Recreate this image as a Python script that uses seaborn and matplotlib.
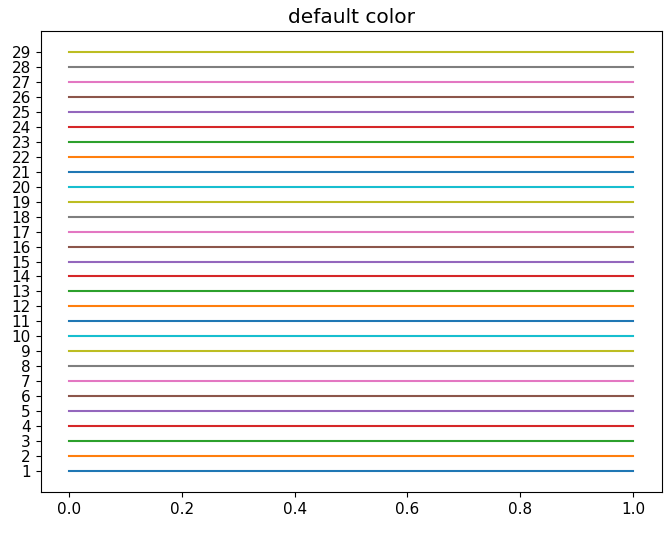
import matplotlib
matplotlib.use("Agg")
import matplotlib.pyplot as plt
import seaborn as sns
import pandas as pd

# one horizontal line per level, drawn from x=0 to x=1
levels = list(range(1, 30))
x_ends = [0, 1]

rows = []
for lv in levels:
    for x in x_ends:
        rows.append({"x": x, "y": lv, "level": lv})
df = pd.DataFrame(rows)

plt.rcParams["font.size"] = 11

tab10 = plt.rcParams["axes.prop_cycle"].by_key()["color"]
palette = {lv: tab10[i % len(tab10)] for i, lv in enumerate(levels)}

fig, ax = plt.subplots(figsize=(6.72, 5.35), dpi=100)
sns.lineplot(data=df, x="x", y="y", hue="level", palette=palette,
             legend=False, ax=ax)

ax.set_yticks(levels)
ax.set_xlabel("")
ax.set_ylabel("")
ax.set_title("default color", fontsize=14.5)
fig.subplots_adjust(left=0.0603, right=0.9844, top=0.942, bottom=0.0804)
plt.savefig("out.png")
